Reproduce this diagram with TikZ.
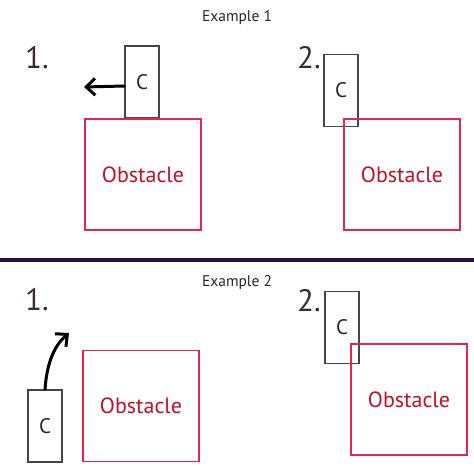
\documentclass[tikz,border=0pt]{standalone}
\usepackage{fontspec}
\setmainfont{PT Sans}
\usepackage{xcolor}
\usepackage{tikz}
\usetikzlibrary{arrows.meta,positioning}

\definecolor{obsred}{HTML}{E4264E}
\definecolor{obstxt}{HTML}{C0102A}
\definecolor{boxgray}{HTML}{454545}
\definecolor{numbrown}{HTML}{3A2B2C}
\definecolor{rulepurple}{HTML}{2E0E48}

\begin{document}
\begin{tikzpicture}[
  x=1pt, y=-1pt,
  cbox/.style={rectangle, draw=boxgray, line width=1.3pt, minimum width=34pt, minimum height=72pt, inner sep=0pt, text=black!85, font=\fontsize{21}{21}\selectfont},
  obstacle/.style={rectangle, draw=obsred, line width=1.3pt, minimum width=116pt, minimum height=111pt, inner sep=0pt, text=obstxt, font=\fontsize{22}{22}\selectfont},
  steplabel/.style={anchor=base west, inner sep=0pt, text=numbrown, font=\fontsize{31}{31}\selectfont},
  title/.style={inner sep=0pt, text=black!85, font=\fontsize{15.5}{15.5}\selectfont},
  move/.style={line width=3pt, line cap=round, -{Straight Barb[length=9pt,width=17pt,line width=3pt]}},
]
  \useasboundingbox (0,0) rectangle (474,474);

  % Example 1 (top half)
  \node[title] (ex1) at (237,18) {Example 1};
  \node[steplabel] (n1a) at (25,68) {1.};
  \node[steplabel] (n2a) at (297,68) {2.};

  \node[cbox] (ca) at (142,82) {C};
  \node[obstacle] (oa) at (143,174.5) {Obstacle};
  \coordinate (tipa) at (84,87);
  \draw[move] ([yshift=-4pt]ca.west) -- (tipa);

  \node[cbox] (cb) at (341,90.5) {C};
  \node[obstacle] (ob) at (402,174.5) {Obstacle};

  % divider
  \draw[line width=4pt, rulepurple] (0,259.5) -- (474,259.5);

  % Example 2 (bottom half)
  \node[title] (ex2) at (237,283) {Example 2};
  \node[steplabel] (n1b) at (25,310) {1.};
  \node[steplabel] (n2b) at (297,311) {2.};

  \node[cbox] (cc) at (45,426) {C};
  \node[obstacle] (oc) at (141,406) {Obstacle};
  \coordinate (tipc) at (69,333);
  \draw[move] (cc.north) .. controls (47,360) and (56,344) .. (tipc);

  \node[cbox] (cd) at (342,327.5) {C};
  \node[obstacle] (od) at (409,399.5) {Obstacle};
\end{tikzpicture}
\end{document}
